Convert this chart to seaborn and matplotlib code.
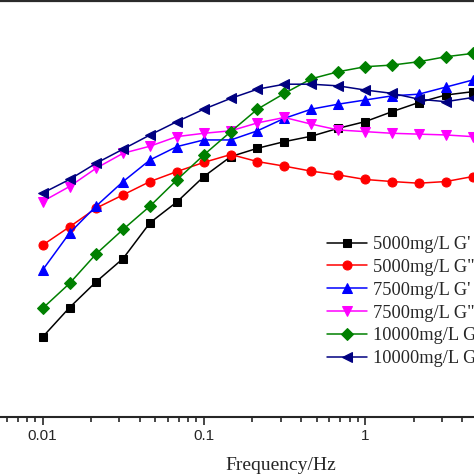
import pandas as pd
import seaborn as sns
import matplotlib.pyplot as plt

# frequency sweep (Hz), 6 points per decade
freq = [0.01, 0.0147, 0.0215, 0.0316, 0.0464, 0.0681, 0.1, 0.147, 0.215,
        0.316, 0.464, 0.681, 1.0, 1.47, 2.15, 3.16, 4.64]

# moduli (arbitrary units, y axis is cropped away)
g1_5000 = [19.2, 26.3, 32.5, 38.1, 46.7, 51.7, 57.8, 62.6, 64.6, 66.2, 67.5,
           69.4, 71.0, 73.4, 75.6, 77.4, 78.2]
g2_5000 = [41.3, 45.7, 50.2, 53.4, 56.6, 59.0, 61.2, 63.1, 61.4, 60.3, 59.1,
           58.2, 57.1, 56.6, 56.2, 56.6, 57.8]
g1_7500 = [35.3, 44.2, 50.7, 56.6, 61.8, 65.0, 66.6, 66.6, 68.8, 71.8, 74.0,
           75.2, 76.2, 77.2, 77.6, 79.3, 81.0]
g2_7500 = [51.8, 55.4, 59.8, 63.4, 65.1, 67.4, 68.2, 68.8, 70.7, 72.0, 70.4,
           69.0, 68.6, 68.2, 68.0, 67.8, 67.4]
g1_10000 = [26.1, 32.1, 39.2, 45.1, 50.7, 57.0, 63.0, 68.6, 74.0, 77.8, 81.3,
            83.0, 84.2, 84.6, 85.4, 86.6, 87.4]
g2_10000 = [53.8, 57.1, 61.0, 64.4, 67.8, 71.0, 74.0, 76.6, 78.8, 80.0, 80.0,
            79.6, 78.6, 77.8, 76.4, 75.8, 76.8]

labels = ["5000mg/L G'", '5000mg/L G"', "7500mg/L G'", '7500mg/L G"',
          "10000mg/L G'", '10000mg/L G"']
series = [g1_5000, g2_5000, g1_7500, g2_7500, g1_10000, g2_10000]
colors = ["black", "red", "blue", "magenta", "green", "navy"]
markers = ["s", "o", "^", "v", "D", "<"]
sizes = [5.5, 6.5, 6.5, 6.5, 6, 6.5]

df = pd.concat([pd.DataFrame({"freq": freq, "G": s, "series": lab})
                for s, lab in zip(series, labels)], ignore_index=True)

sns.set_style("ticks")
plt.rcParams['font.family'] = ['Liberation Sans', 'DejaVu Sans']

fig = plt.figure(figsize=(4.74, 4.74), dpi=100)
ax = fig.add_axes([0, 57 / 474, 1, 416 / 474])

for lab, col, mk, ms in zip(labels, colors, markers, sizes):
    sns.lineplot(data=df[df.series == lab], x="freq", y="G", color=col,
                 marker=mk, markersize=ms, markeredgecolor=col, linewidth=1.1,
                 label=lab, ax=ax)

ax.set_xscale("log")
ax.set_xlim(0.005451, 4.73)
ax.set_ylim(0, 100)
ax.set_xticks([0.01, 0.1, 1])
ax.set_xticklabels(["0.01", "0.1", "1"])
ax.tick_params(axis="x", which="major", direction="out", length=6, width=1.2,
               labelsize=11, pad=3)
ax.tick_params(axis="x", which="minor", direction="out", length=3.5, width=1.2)
ax.set_yticks([])
ax.set_ylabel("")

for side in ["left", "right"]:
    ax.spines[side].set_visible(False)
ax.spines["bottom"].set_linewidth(1.5)
ax.spines["top"].set_linewidth(1.6)
ax.spines["top"].set_color("#2b2b2b")

ax.set_xlabel("Frequency/Hz", family="Liberation Serif", fontsize=14,
              va="baseline")
ax.xaxis.set_label_coords(281 / 474, -53 / 416)

handles, labs = ax.get_legend_handles_labels()
ax.legend(handles, labs, loc="upper left", frameon=False,
          bbox_to_anchor=(327 / 474, 1 - 236 / 474),
          bbox_transform=fig.transFigure, borderpad=0, borderaxespad=0,
          handlelength=2.2, handletextpad=0.3, labelspacing=0.32,
          prop={"family": "Liberation Serif", "size": 13.2})

plt.savefig("out.png", dpi=100)
